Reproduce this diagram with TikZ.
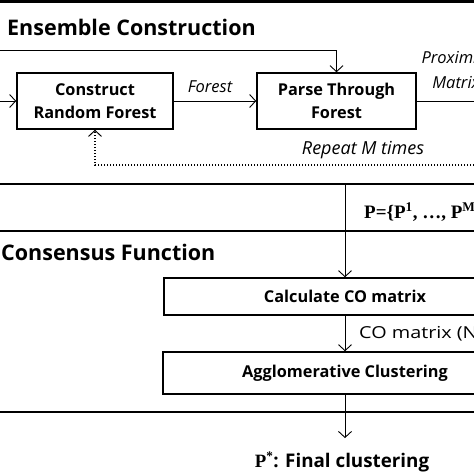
\documentclass[tikz,border=0pt]{standalone}
\usepackage{fontspec}
\setmainfont{Open Sans}
\newfontfamily\serifb{Liberation Serif}
\newfontfamily\widesans[FakeStretch=1.2]{Open Sans}
\usetikzlibrary{arrows.meta}
\begin{document}
\begin{tikzpicture}[x=1pt,y=-1pt,
  box/.style={draw,line width=1.5pt,inner sep=0pt,align=center,
    font=\fontsize{16.3}{23}\selectfont\bfseries},
  ttl/.style={inner sep=0pt,font=\fontsize{21.5}{26}\selectfont\bfseries},
  lbl/.style={inner sep=0pt,align=center,font=\fontsize{16.5}{25}\selectfont\itshape},
  plain/.style={inner sep=0pt,font=\fontsize{16.5}{20}\selectfont\widesans},
  arr/.style={line width=0.9pt,-{Straight Barb[length=6pt,width=13pt,line width=0.9pt]}},
  dotarr/.style={line width=1.5pt,dash pattern=on 1.4pt off 1.6pt,-{Straight Barb[length=6pt,width=13pt,line width=1pt]}},
  rulebar/.style={line width=2.6pt}]
\useasboundingbox (0,0) rectangle (474,474);
\clip (0,0) rectangle (474,474);
% horizontal rules
\coordinate (r1a) at (-5,1.5); \coordinate (r1b) at (480,1.5);
\coordinate (r2a) at (-5,184); \coordinate (r2b) at (480,184);
\coordinate (r3a) at (-5,231); \coordinate (r3b) at (480,231);
\coordinate (r4a) at (-5,412); \coordinate (r4b) at (480,412);
\draw[rulebar] (r1a) -- (r1b);
\draw[rulebar] (r2a) -- (r2b);
\draw[rulebar] (r3a) -- (r3b);
\draw[rulebar] (r4a) -- (r4b);
% titles
\node[ttl,anchor=base west] (t1) at (7,35) {Ensemble Construction};
\node[ttl,anchor=base west] (t2) at (1,260) {Consensus Function};
% boxes
\node[box,minimum width=156pt,minimum height=56pt] (crf) at (95,101) {Construct\\Random Forest};
\node[box,minimum width=159pt,minimum height=56pt] (ptf) at (336.5,101) {Parse Through\\Forest};
\node[box,minimum width=362pt,minimum height=37pt] (cco) at (345,296.5) {Calculate CO matrix};
\node[box,minimum width=364pt,minimum height=42pt] (agg) at (345,373) {Agglomerative Clustering};
% labels
\node[lbl] (forest) at (210,87) {Forest};
\node[lbl,font=\fontsize{18}{25}\selectfont\itshape] (rep) at (363,150) {Repeat M times};
\node[lbl] (prox) at (456,70) {Proximity\\Matrix};
\node[inner sep=0pt,anchor=west,font=\fontsize{19}{20}\selectfont\serifb\bfseries] (pset) at (364,212) {P=\{P\textsuperscript{1}, …, P\textsuperscript{M}\}};
\node[plain,anchor=west] (com) at (359,334) {CO matrix (N×N)};
\node[inner sep=2pt,font=\fontsize{18.8}{20}\selectfont\bfseries] (pstar) at (342,462) {{\serifb P\textsuperscript{*}}: Final clustering};
% connectors
\coordinate (inL) at (-5,101);
\coordinate (topL) at (-5,50);
\coordinate (outR) at (480,101);
\coordinate (dotR) at (480,165);
\coordinate (split) at (345,184);
\draw[arr] (inL) -- (crf.west);
\draw[arr,line width=0.8pt] (topL) -| (ptf.north);
\draw[arr] (crf.east) -- (ptf.west);
\draw[line width=0.9pt] (ptf.east) -- (outR);
\draw[dotarr] (dotR) -| (crf.south);
\draw[arr] (split) -- (cco.north);
\draw[arr] (cco.south) -- (agg.north);
\draw[arr,shorten >=12pt] (agg.south) -- (agg.south |- pstar.north);
\end{tikzpicture}
\end{document}
